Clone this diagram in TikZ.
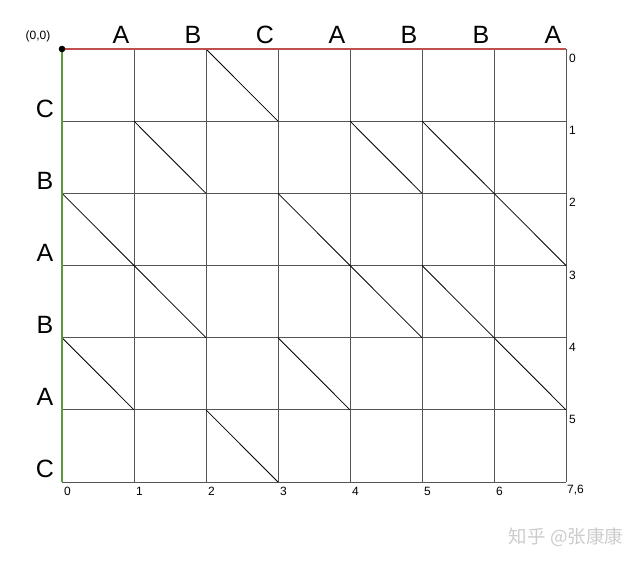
\documentclass[tikz,border=0pt]{standalone}
\usepackage{fontspec}
\setmainfont{Liberation Sans}
\newfontfamily\cjk{Noto Sans CJK SC}
\definecolor{gridgray}{HTML}{555555}
\definecolor{redline}{HTML}{C0504D}
\definecolor{greenline}{HTML}{5A9A3A}
\begin{document}
\begin{tikzpicture}[x=1pt,y=-1pt,
  gridline/.style={draw=gridgray,line width=0.9pt},
  diagline/.style={draw=black,line width=0.8pt},
  bigletter/.style={font=\fontsize{25}{25}\selectfont,inner sep=0pt},
  smallnum/.style={font=\fontsize{12}{12}\selectfont,inner sep=0pt}]
\useasboundingbox (0,0) rectangle (640,560);
\fill[white] (0,0) rectangle (640,560);
% grid
\foreach \i in {0,...,7} {
  \draw[gridline] ({62+72*\i},49) -- ({62+72*\i},482);
}
\foreach \j in {0,...,6} {
  \draw[gridline] (62,{49+72.17*\j}) -- (566,{49+72.17*\j});
}
% diagonals (matches of ABCABBA vs CBABAC)
\foreach \c/\r in {2/0, 1/1,4/1,5/1, 0/2,3/2,6/2, 1/3,4/3,5/3, 0/4,3/4,6/4, 2/5} {
  \draw[diagline] ({62+72*\c},{49+72.17*\r}) -- ({134+72*\c},{121.17+72.17*\r});
}
% coloured borders
\coordinate (origin) at (62,49);
\coordinate (topright) at (566,49);
\coordinate (bottomleft) at (62,482);
\draw[redline,line width=1.8pt] (origin) -- (topright);
\draw[greenline,line width=1.3pt] (origin) -- (bottomleft);
\fill[black] (origin) circle (3.3);
\node[font=\fontsize{12}{12}\selectfont] (o) at (38,36) {(0,0)};
% top letters
\foreach \L [count=\i from 0] in {A,B,C,A,B,B,A} {
  \node[bigletter,anchor=base] (t\i) at ({121+72*\i},43) {\L};
}
% left letters
\foreach \L [count=\j from 0] in {C,B,A,B,A,C} {
  \node[bigletter,anchor=base] (l\j) at (45,{117+72.17*\j}) {\L};
}
% right numbers
\foreach \j in {0,...,5} {
  \node[smallnum,anchor=north west] (r\j) at (569,{54+72.17*\j}) {\j};
}
% bottom numbers
\foreach \i in {0,...,6} {
  \node[smallnum,anchor=north west] (b\i) at ({64+72*\i},487) {\i};
}
\node[smallnum,anchor=north west] (end) at (567,485) {7,6};
% watermark
\node[font=\cjk\fontsize{18.5}{18.5}\selectfont,text=gray!40,inner sep=0pt] (wm) at (566,537) {知乎 @张康康};
\end{tikzpicture}
\end{document}
